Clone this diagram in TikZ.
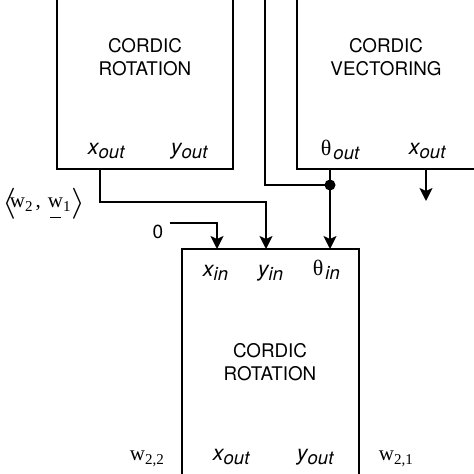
\documentclass[tikz,border=0pt]{standalone}
\usepackage{fontspec}
\setmainfont{TeX Gyre Heros}
\newfontfamily\tmfont{Liberation Serif}
\usetikzlibrary{arrows.meta}
\newcommand\isub[2]{{\itshape\fontsize{21.5}{21.5}\selectfont #1}{\itshape\fontsize{18.5}{18.5}\selectfont\raisebox{-4pt}{#2}}}
\newcommand\thsub[1]{{\tmfont\fontsize{22}{22}\selectfont θ}\kern2pt{\itshape\fontsize{18.5}{18.5}\selectfont\raisebox{-4pt}{#1}}}
\newcommand\wsub[1]{{\tmfont\fontsize{21}{21}\selectfont w\raisebox{-4pt}{\fontsize{15}{15}\selectfont #1}}}
\newcommand\ulw{{\tmfont\fontsize{21}{21}\selectfont\makebox[0pt][l]{\kern2pt\rule[-11pt]{11pt}{1.4pt}}w\raisebox{-4pt}{\fontsize{15}{15}\selectfont 1}}}
\begin{document}
\begin{tikzpicture}[x=1pt,y=-1pt,line width=1.9pt,
  >={Stealth[length=13pt,width=13pt,inset=3pt]}]
\tikzset{
  blk/.style={draw,line width=1.9pt,inner sep=0pt,outer sep=0pt},
  ttl/.style={align=center,font=\fontsize{18.8}{22.5}\selectfont,inner sep=0pt},
  lab/.style={anchor=base west,inner sep=0pt},
  dotn/.style={circle,fill,inner sep=0pt,minimum size=11pt}
}
\useasboundingbox (0,0) rectangle (474,474);
\clip (0,0) rectangle (474,474);
% blocks
\node[blk,minimum width=176pt,minimum height=200pt,anchor=south west] (rot1) at (57,169) {};
\node[blk,minimum width=220pt,minimum height=200pt,anchor=south west] (vec) at (297,169) {};
\node[blk,minimum width=177pt,minimum height=260pt,anchor=north west] (rot2) at (182,249) {};
% titles
\node[ttl] (t1) at (145,57) {CORDIC\\ROTATION};
\node[ttl] (t2) at (386,57) {CORDIC\\VECTORING};
\node[ttl] (t3) at (270,362) {CORDIC\\ROTATION};
% port labels
\node[lab] (r1xo) at (87,154) {\isub{x}{out}};
\node[lab] (r1yo) at (170,154) {\isub{y}{out}};
\node[lab] (vto) at (320,155) {\thsub{out}};
\node[lab] (vxo) at (408,154) {\isub{x}{out}};
\node[lab] (r2xi) at (202,276) {\isub{x}{in}};
\node[lab] (r2yi) at (257,276) {\isub{y}{in}};
\node[lab] (r2ti) at (312,275) {\thsub{in}};
\node[lab] (r2xo) at (212,460) {\isub{x}{out}};
\node[lab] (r2yo) at (296,460) {\isub{y}{out}};
\node[lab] (w22) at (129,460) {\wsub{2,2}};
\node[lab] (w21) at (378,460) {\wsub{2,1}};
\node[lab] (pair) at (2,207) {\raisebox{-4pt}{\scalebox{3.6}[3.1]{$\langle$}}\kern-7pt\wsub{2}\kern3pt{\tmfont\fontsize{21}{21}\selectfont ,}\kern7pt\ulw\kern1pt\raisebox{-4pt}{\scalebox{3.6}[3.1]{$\rangle$}}};
\node[inner sep=0pt,font=\fontsize{19}{19}\selectfont] (zero) at (158,232) {0};
% coordinates
\coordinate (a1) at (100,169);
\coordinate (a2) at (100,202);
\coordinate (a3) at (266,202);
\coordinate (a4) at (266,249);
\coordinate (b1) at (265,-5);
\coordinate (b2) at (265,185);
\node[dotn] (dot) at (330,185) {};
\coordinate (c1) at (330,169);
\coordinate (c2) at (330,249);
\coordinate (d1) at (426,169);
\coordinate (d2) at (426,201);
\coordinate (z1) at (170,223);
\coordinate (z2) at (217,223);
\coordinate (z3) at (217,249);
% connectors
\draw[->] (a1) -- (a2) -- (a3) -- (a4);
\draw (b1) -- (b2) -- (dot.center);
\draw (c1) -- (dot.center);
\draw[->] (dot.center) -- (c2);
\draw[->] (d1) -- (d2);
\draw[->] (z1) -- (z2) -- (z3);
\end{tikzpicture}
\end{document}
